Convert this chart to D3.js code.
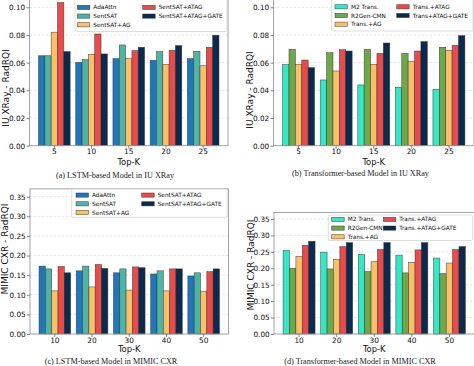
<!DOCTYPE html>
<html><head><meta charset="utf-8">
<script src="https://cdn.jsdelivr.net/npm/d3@7"></script>
<style>
html,body{margin:0;padding:0;background:#fff;}
svg{display:block;}
</style></head>
<body>
<svg id="chart" width="474" height="366"></svg>
<script>
// ---------- DATA ----------
const topKIU = ["5", "10", "15", "20", "25"];
const topKMIMIC = ["10", "20", "30", "40", "50"];

const lstmNames = ["AdaAttn", "SentSAT", "SentSAT+AG", "SentSAT+ATAG", "SentSAT+ATAG+GATE"];
const transNamesIU = ["M2 Trans.", "R2Gen-CMN", "Trans.+AG", "Trans.+ATAG", "Trans+ATAG+GATE"];
const transNamesMIMIC = ["M2 Trans.", "R2Gen-CMN", "Trans.+AG", "Trans.+ATAG", "Trans.+ATAG+GATE"];

// (a) LSTM-based, IU XRay
const aAdaAttn = [0.0650, 0.0602, 0.0629, 0.0617, 0.0629];
const aSentSAT = [0.0650, 0.0622, 0.0728, 0.0680, 0.0682];
const aSentSATAG = [0.0820, 0.0660, 0.0629, 0.0588, 0.0578];
const aSentSATATAG = [0.1034, 0.0807, 0.0687, 0.0689, 0.0711];
const aSentSATGATE = [0.0680, 0.0663, 0.0711, 0.0723, 0.0798];

// (b) Transformer-based, IU XRay
const bM2 = [0.0586, 0.0475, 0.0439, 0.0422, 0.0407];
const bR2Gen = [0.0696, 0.0672, 0.0696, 0.0667, 0.0711];
const bTransAG = [0.0588, 0.0540, 0.0588, 0.0610, 0.0689];
const bTransATAG = [0.0619, 0.0694, 0.0667, 0.0684, 0.0725];
const bTransGATE = [0.0564, 0.0684, 0.0742, 0.0752, 0.0795];

// (c) LSTM-based, MIMIC CXR
const cAdaAttn = [0.173, 0.161, 0.156, 0.153, 0.148];
const cSentSAT = [0.166, 0.173, 0.166, 0.161, 0.156];
const cSentSATAG = [0.110, 0.120, 0.112, 0.110, 0.109];
const cSentSATATAG = [0.172, 0.177, 0.171, 0.166, 0.159];
const cSentSATGATE = [0.156, 0.167, 0.169, 0.166, 0.166];

// (d) Transformer-based, MIMIC CXR
const dM2 = [0.254, 0.249, 0.242, 0.240, 0.231];
const dR2Gen = [0.200, 0.198, 0.190, 0.186, 0.184];
const dTransAG = [0.236, 0.227, 0.220, 0.218, 0.216];
const dTransATAG = [0.270, 0.266, 0.257, 0.256, 0.257];
const dTransGATE = [0.282, 0.278, 0.278, 0.278, 0.266];

const iuTicks = [0.00, 0.02, 0.04, 0.06, 0.08, 0.10];
const mimicTicks = [0.00, 0.05, 0.10, 0.15, 0.20, 0.25, 0.30, 0.35];

const lstmColors = ["#2277b8", "#4fb3a5", "#f7c069", "#e84b4b", "#0c2a4c"];
const transColors = ["#34e8c6", "#6ea84a", "#f7c069", "#e84b4b", "#0c2a4c"];

// ---------- LAYOUT ----------
const panels = [
  { cats: topKIU, names: lstmNames, colors: lstmColors,
    series: [aAdaAttn, aSentSAT, aSentSATAG, aSentSATATAG, aSentSATGATE],
    ticks: iuTicks, ymax: 0.108,
    left: 29.5, right: 228, bottom: 145.7, pxPerUnit: 1384,
    ylabel: "IU XRay - RadRQI", ylabX: 8.5, ylabY: 88,
    xlabY: 165, xtickY: 154.3,
    caption: "(a) LSTM-based Model in IU XRay", capX: 115, capY: 178.3,
    leg: { x: 75, y: -1, w: 152, h: 32.5, c1: 77.3, c2: 142.7, r0: 7.3 } },
  { cats: topKIU, names: transNamesIU, colors: transColors,
    series: [bM2, bR2Gen, bTransAG, bTransATAG, bTransGATE],
    ticks: iuTicks, ymax: 0.108,
    left: 273.5, right: 474, bottom: 145.7, pxPerUnit: 1384,
    ylabel: "IU XRay - RadRQI", ylabX: 253.2, ylabY: 90,
    xlabY: 165, xtickY: 154.3,
    caption: "(b) Transformer-based Model in IU XRay", capX: 360.5, capY: 176.3,
    leg: { x: 331.7, y: -1, w: 141.3, h: 32, c1: 335, c2: 396.7, r0: 6.7 } },
  { cats: topKMIMIC, names: lstmNames, colors: lstmColors,
    series: [cAdaAttn, cSentSAT, cSentSATAG, cSentSATATAG, cSentSATGATE],
    ticks: mimicTicks, ymax: 0.37,
    left: 30, right: 228.5, bottom: 334, pxPerUnit: 392.3,
    ylabel: "MIMIC CXR - RadRQI", ylabX: 8.3, ylabY: 249,
    xlabY: 352.2, xtickY: 342.6,
    caption: "(c) LSTM-based Model in MIMIC CXR", capX: 111, capY: 364.3,
    leg: { x: 71.7, y: 189, w: 155.6, h: 28.3, c1: 76, c2: 141.7, r0: 195 } },
  { cats: topKMIMIC, names: transNamesMIMIC, colors: transColors,
    series: [dM2, dR2Gen, dTransAG, dTransATAG, dTransGATE],
    ticks: mimicTicks, ymax: 0.37,
    left: 274, right: 474.5, bottom: 334, pxPerUnit: 328.6,
    ylabel: "MIMIC CXR - RadRQI", ylabX: 253.8, ylabY: 265,
    xlabY: 352.2, xtickY: 342.6,
    caption: "(d) Transformer-based Model in MIMIC CXR", capX: 360, capY: 364,
    leg: { x: 328.3, y: 215, w: 144.4, h: 25.5, c1: 331.7, c2: 383.3, r0: 219.3 } }
];

const svg = d3.select("#chart");
const sans = "DejaVu Sans, sans-serif";
const serif = "Liberation Serif, Times New Roman, serif";

panels.forEach((p) => {
  const top = p.bottom - p.ymax * p.pxPerUnit;
  const g = svg.append("g");

  const x0 = d3.scaleBand().domain(p.cats).range([p.left, p.right])
    .paddingInner(0.15).paddingOuter(0.2425);
  const x1 = d3.scaleBand().domain(d3.range(p.names.length)).range([0, x0.bandwidth()]);
  const y = d3.scaleLinear().domain([0, p.ymax]).range([p.bottom, top]);

  // grid
  g.append("g").selectAll("line").data(p.ticks.filter(t => t > 0)).join("line")
    .attr("x1", p.left).attr("x2", p.right)
    .attr("y1", d => y(d)).attr("y2", d => y(d))
    .attr("stroke", "#d6d6d6").attr("stroke-width", 0.6)
    .attr("stroke-dasharray", "2.5,1.5");

  // bars
  p.series.forEach((vals, si) => {
    g.append("g").selectAll("rect").data(vals).join("rect")
      .attr("x", (d, i) => x0(p.cats[i]) + x1(si))
      .attr("y", d => y(d))
      .attr("width", x1.bandwidth())
      .attr("height", d => y(0) - y(d))
      .attr("fill", p.colors[si])
      .attr("stroke", "#2a2a2a").attr("stroke-opacity", 0.75).attr("stroke-width", 0.6);
  });

  // frame
  g.append("rect").attr("x", p.left).attr("y", top)
    .attr("width", p.right - p.left).attr("height", p.bottom - top)
    .attr("fill", "none").attr("stroke", "#9a9a9a").attr("stroke-width", 0.9);

  // y axis
  const yAxis = d3.axisLeft(y).tickValues(p.ticks).tickFormat(d3.format(".2f"))
    .tickSize(3).tickPadding(1.3);
  const ya = g.append("g").attr("transform", `translate(${p.left},0)`).call(yAxis);
  ya.select(".domain").remove();
  ya.selectAll("line").attr("stroke", "#555").attr("stroke-width", 0.7);
  ya.selectAll("text").attr("font-family", sans).attr("font-size", 7.3).attr("fill", "#111");

  // x axis
  const xAxis = d3.axisBottom(x0).tickSize(3).tickPadding(2);
  const xa = g.append("g").attr("transform", `translate(0,${p.bottom})`).call(xAxis);
  xa.select(".domain").remove();
  xa.selectAll("line").attr("stroke", "#555").attr("stroke-width", 0.7);
  xa.selectAll("text").attr("font-family", sans).attr("font-size", 7.4).attr("fill", "#111")
    .attr("dy", null).attr("y", p.xtickY - p.bottom);

  // axis labels
  g.append("text").attr("x", (p.left + p.right) / 2).attr("y", p.xlabY)
    .attr("text-anchor", "middle").attr("font-family", sans).attr("font-size", 8.4)
    .attr("fill", "#111").text("Top-K");
  g.append("text").attr("transform", `translate(${p.ylabX},${p.ylabY}) rotate(-90)`)
    .attr("text-anchor", "middle").attr("font-family", sans).attr("font-size", 9)
    .attr("fill", "#111").text(p.ylabel);

  // caption
  g.append("text").attr("x", p.capX).attr("y", p.capY).attr("text-anchor", "middle")
    .attr("font-family", serif).attr("font-size", 8.2).attr("fill", "#222").text(p.caption);

  // legend
  const L = p.leg;
  g.append("rect").attr("x", L.x).attr("y", L.y).attr("width", L.w).attr("height", L.h)
    .attr("rx", 1.5).attr("fill", "#fff").attr("fill-opacity", 0.85)
    .attr("stroke", "#d0d0d0").attr("stroke-width", 0.7);
  const rowH = 8.7;
  p.names.forEach((nm, si) => {
    const col = si < 3 ? 0 : 1;
    const row = si < 3 ? si : si - 3;
    const px = col === 0 ? L.c1 : L.c2;
    const cy = L.r0 + row * rowH;
    g.append("rect").attr("x", px).attr("y", cy - 2).attr("width", 12.5).attr("height", 4.2)
      .attr("fill", p.colors[si]).attr("stroke", "#2a2a2a").attr("stroke-opacity", 0.75)
      .attr("stroke-width", 0.6);
    g.append("text").attr("x", px + 16).attr("y", cy + 2.1)
      .attr("font-family", sans).attr("font-size", 5.8).attr("fill", "#111").text(nm);
  });
});
</script>
</body></html>
